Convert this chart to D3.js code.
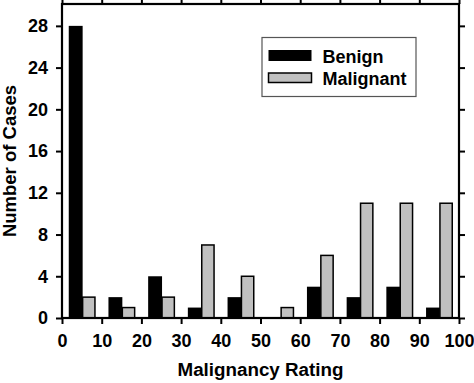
<!DOCTYPE html>
<html><head><meta charset="utf-8">
<script src="https://cdn.jsdelivr.net/npm/d3@7"></script>
<style>body{margin:0;background:#fff}text{font-family:"Liberation Sans",Arial,sans-serif;font-weight:bold}</style>
</head><body><svg id="c" width="474" height="383"></svg>
<script>
const bins = [0,10,20,30,40,50,60,70,80,90];
const benign = [28,2,4,1,2,0,3,2,3,1];
const malignant = [2,1,2,7,4,1,6,11,11,11];
const xTicks = [0,10,20,30,40,50,60,70,80,90,100];
const yTicks = [0,4,8,12,16,20,24,28];
const seriesNames = ["Benign","Malignant"];

const svg = d3.select("#c");
const x = d3.scaleLinear().domain([0,100]).range([62,459]);
const y = d3.scaleLinear().domain([0,30]).range([318,5]);
const frameTop = 4;

// bars
svg.append("g").selectAll("rect").data(bins).join("rect")
  .attr("x", (d)=>x(d+1.7)).attr("width", (d)=>x(d+5.2)-x(d+1.7))
  .attr("y", (d,i)=>y(benign[i])).attr("height", (d,i)=>y(0)-y(benign[i]))
  .attr("fill","#000");
svg.append("g").selectAll("rect").data(bins).join("rect")
  .attr("x", (d)=>x(d+5.2)).attr("width", (d)=>x(d+8.3)-x(d+5.2))
  .attr("y", (d,i)=>y(malignant[i])).attr("height", (d,i)=>y(0)-y(malignant[i]))
  .attr("fill","#c0c0c0").attr("stroke","#000").attr("stroke-width",1.5);

// frame
svg.append("rect").attr("x",x(0)).attr("y",frameTop).attr("width",x(100)-x(0)).attr("height",y(0)-frameTop)
  .attr("fill","none").attr("stroke","#000").attr("stroke-width",2.2);

// axes
const ax = (g)=>{g.selectAll("path").remove();g.selectAll("line").attr("stroke-width",2);};
svg.append("g").attr("transform",`translate(0,${y(0)})`)
  .call(d3.axisBottom(x).tickValues(xTicks).tickSize(6).tickPadding(10)).call(ax)
  .selectAll("text").style("font-size","18px").attr("fill","#000");
svg.append("g").attr("transform",`translate(0,${frameTop})`)
  .call(d3.axisTop(x).tickValues(xTicks).tickSize(5).tickFormat("")).call(ax);
svg.append("g").attr("transform",`translate(${x(0)},0)`)
  .call(d3.axisLeft(y).tickValues(yTicks).tickSize(6).tickPadding(8)).call(ax)
  .selectAll("text").style("font-size","18px").attr("fill","#000");
svg.append("g").attr("transform",`translate(${x(100)},0)`)
  .call(d3.axisRight(y).tickValues(yTicks).tickSize(6).tickFormat("")).call(ax);

// axis titles
svg.append("text").attr("x",(x(0)+x(100))/2).attr("y",376).attr("text-anchor","middle")
  .style("font-size","18.8px").text("Malignancy Rating");
svg.append("text").attr("transform",`translate(16,${161}) rotate(-90)`).attr("text-anchor","middle")
  .style("font-size","18.5px").text("Number of Cases");

// legend
const lg = svg.append("g");
lg.append("rect").attr("x",262).attr("y",37.5).attr("width",154).attr("height",59)
  .attr("fill","#fff").attr("stroke","#555").attr("stroke-width",1.2);
const sw = [{f:"#000",s:"none"},{f:"#c0c0c0",s:"#000"}];
seriesNames.forEach((n,i)=>{
  lg.append("rect").attr("x",268.5).attr("y",50+i*23).attr("width",43).attr("height",i?9.5:11)
    .attr("fill",sw[i].f).attr("stroke",sw[i].s).attr("stroke-width",1.5);
  lg.append("text").attr("x",322.5).attr("y",62.5+i*22.5).style("font-size","18px").text(n);
});
</script></body></html>
